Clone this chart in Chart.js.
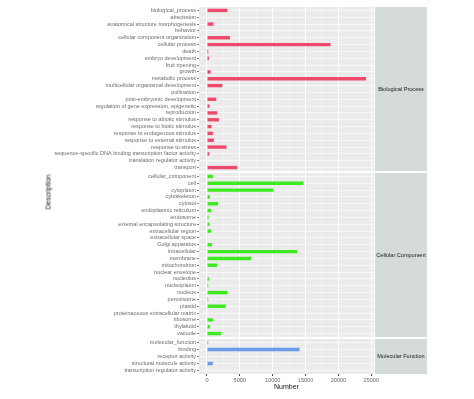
<!DOCTYPE html>
<html>
<head>
<meta charset="utf-8">
<script src="https://cdn.jsdelivr.net/npm/chart.js@4"></script>
<style>
  body { margin: 0; background: #fff; width: 474px; height: 399px; position: relative; overflow: hidden; font-family: "Liberation Sans", Arial, sans-serif; }
  canvas { position: absolute; left: 0; }
  #ylab { position: absolute; left: 48px; top: 192px; transform: translate(-50%, -50%) rotate(-90deg); font-size: 7px; color: #111; white-space: nowrap; }
</style>
</head>
<body>
<canvas id="bpChart" width="428" height="164" style="top:7px"></canvas>
<canvas id="ccChart" width="428" height="164" style="top:173px"></canvas>
<canvas id="mfChart" width="428" height="52" style="top:339px"></canvas>
<div id="ylab">Description</div>
<script>
// facet: Biological Process
const bpLabels = ['biological_process', 'abscission', 'anatomical structure morphogenesis', 'behavior',
  'cellular component organization', 'cellular process', 'death', 'embryo development', 'fruit ripening',
  'growth', 'metabolic process', 'multicellular organismal development', 'pollination',
  'post-embryonic development', 'regulation of gene expression, epigenetic', 'reproduction',
  'response to abiotic stimulus', 'response to biotic stimulus', 'response to endogenous stimulus',
  'response to external stimulus', 'response to stress',
  'sequence-specific DNA binding transcription factor activity', 'translation regulator activity', 'transport'];
const bpValues = [3100, 0, 1000, 0, 3500, 18800, 200, 300, 0, 560, 24200, 2330, 100, 1420, 400, 1570,
  1820, 710, 910, 1060, 2970, 360, 0, 4590];

// facet: Cellular Component
const ccLabels = ['cellular_component', 'cell', 'cytoplasm', 'cytoskeleton', 'cytosol', 'endoplasmic reticulum',
  'endosome', 'external encapsulating structure', 'extracellular region', 'extracellular space',
  'Golgi apparatus', 'intracellular', 'membrane', 'mitochondrion', 'nuclear envelope', 'nucleolus',
  'nucleoplasm', 'nucleus', 'peroxisome', 'plastid', 'proteinaceous extracellular matrix', 'ribosome',
  'thylakoid', 'vacuole'];
const ccValues = [900, 14700, 10100, 450, 1700, 650, 250, 400, 650, 0, 750, 13700, 6700, 1550, 80, 300,
  200, 3100, 200, 2870, 0, 900, 450, 2170];

// facet: Molecular Function
const mfLabels = ['molecular_function', 'binding', 'receptor activity', 'structural molecule activity',
  'transcription regulator activity'];
const mfValues = [200, 14100, 60, 900, 0];

const xMin = -1210;
const xMax = 25410;
const xStep = 2500;

Chart.defaults.font.family = '"Liberation Sans", Arial, sans-serif';

// grey panel + strip on the right
const facetPlugin = {
  id: 'facet',
  beforeDraw(chart, args, opts) {
    const a = chart.chartArea;
    const ctx = chart.ctx;
    ctx.save();
    ctx.fillStyle = '#EBEBEB';
    ctx.fillRect(a.left, a.top, a.right - a.left, a.bottom - a.top);
    ctx.fillStyle = '#D4DBDA';
    ctx.fillRect(a.right + 1, a.top, 52, a.bottom - a.top);
    ctx.fillStyle = '#1A1A1A';
    ctx.font = '5.6px "Liberation Sans", Arial, sans-serif';
    ctx.textAlign = 'center';
    ctx.textBaseline = 'middle';
    ctx.fillText(opts.text, a.right + 27, (a.top + a.bottom) / 2);
    ctx.restore();
  }
};

function makeFacet(id, labels, values, color, strip, showX) {
  const ctx = document.getElementById(id).getContext('2d');
  return new Chart(ctx, {
    type: 'bar',
    data: {
      labels: labels,
      datasets: [{
        data: values,
        backgroundColor: color,
        borderWidth: 0,
        barPercentage: 0.5,
        categoryPercentage: 1
      }]
    },
    options: {
      indexAxis: 'y',
      responsive: false,
      animation: false,
      layout: { padding: { left: 0, right: 54, top: 0, bottom: 0 } },
      plugins: {
        legend: { display: false },
        tooltip: { enabled: false },
        facet: { text: strip }
      },
      scales: {
        x: {
          type: 'linear',
          min: xMin,
          max: xMax,
          afterBuildTicks: s => {
            const t = [];
            for (let v = 0; v <= 25000; v += xStep) t.push({ value: v });
            s.ticks = t;
          },
          afterFit: s => {
            s.height = showX ? 17 : 0;
            s.paddingLeft = 0;
            s.paddingRight = 0;
          },
          border: { display: false },
          grid: {
            color: c => c.tick && c.tick.value % 5000 === 0 ? '#FFFFFF' : 'rgba(255,255,255,0.55)',
            lineWidth: c => c.tick && c.tick.value % 5000 === 0 ? 1 : 0.5,
            drawTicks: showX,
            tickLength: 2,
            tickColor: c => c.tick && c.tick.value % 5000 === 0 ? '#444' : 'rgba(0,0,0,0)'
          },
          ticks: {
            display: showX,
            autoSkip: false,
            maxRotation: 0,
            padding: 1,
            color: '#6b6b6b',
            font: { size: 5.6 },
            callback: v => v % 5000 === 0 ? String(v) : ''
          },
          title: {
            display: showX,
            text: 'Number',
            color: '#111',
            font: { size: 7 },
            padding: { top: 0, bottom: 0 }
          }
        },
        y: {
          type: 'category',
          offset: true,
          afterFit: s => {
            s.width = 199;
            s.paddingTop = 0;
            s.paddingBottom = 0;
          },
          border: { display: false },
          grid: {
            offset: false,
            color: '#FFFFFF',
            lineWidth: 0.7,
            tickLength: 2,
            tickColor: '#444'
          },
          ticks: {
            autoSkip: false,
            padding: 1,
            color: '#6b6b6b',
            font: { size: 5.5 }
          }
        }
      }
    },
    plugins: [facetPlugin]
  });
}

makeFacet('bpChart', bpLabels, bpValues, '#F0496E', 'Biological Process', false);
makeFacet('ccChart', ccLabels, ccValues, '#3BEB1E', 'Cellular Component', false);
makeFacet('mfChart', mfLabels, mfValues, '#6A9BEA', 'Molecular Function', true);
</script>
</body>
</html>
